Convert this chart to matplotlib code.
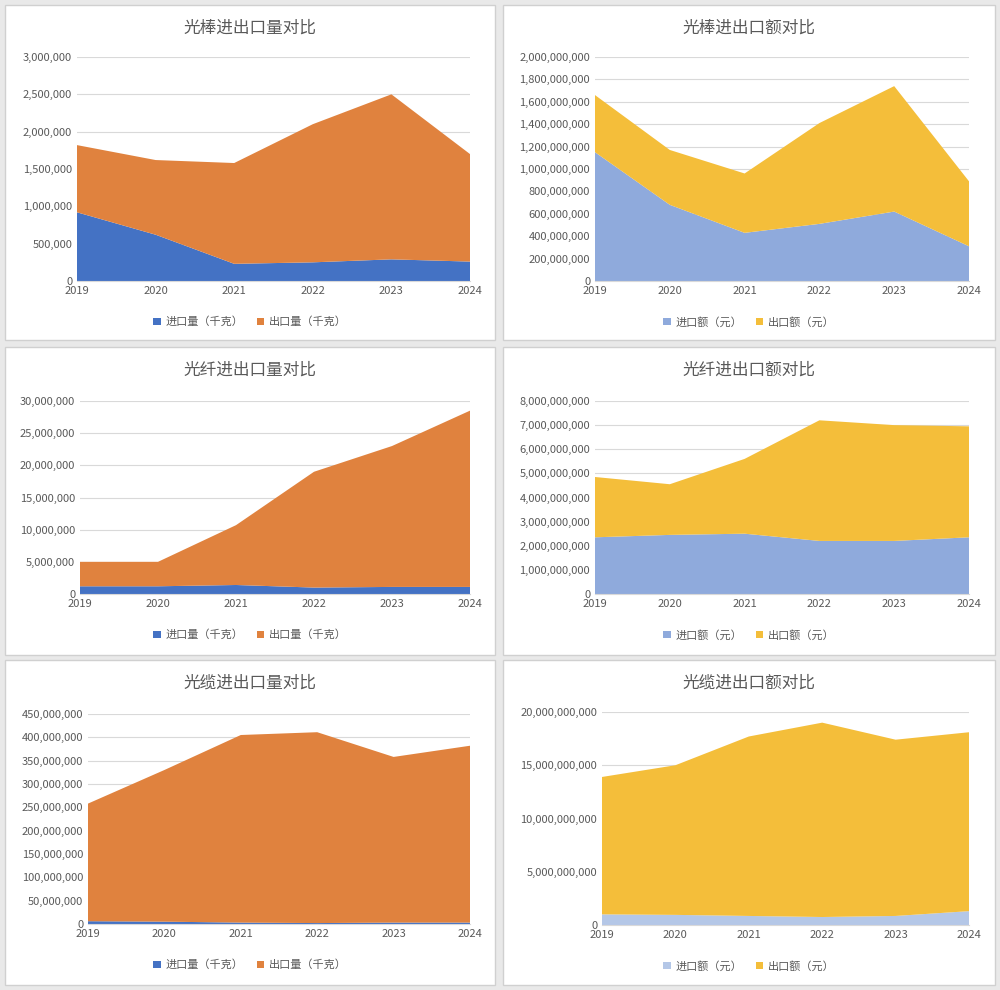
import matplotlib
matplotlib.use("Agg")
import matplotlib.pyplot as plt
from matplotlib.patches import Rectangle
from matplotlib.ticker import FuncFormatter

plt.rcParams["font.family"] = ["Noto Sans CJK SC", "DejaVu Sans"]

annees = ["2019", "2020", "2021", "2022", "2023", "2024"]

# 光棒
bangImportQte = [920e3, 620e3, 230e3, 250e3, 290e3, 260e3]
bangExportQte = [900e3, 1000e3, 1350e3, 1850e3, 2210e3, 1440e3]
bangImportVal = [1150e6, 680e6, 430e6, 510e6, 620e6, 310e6]
bangExportVal = [510e6, 490e6, 530e6, 900e6, 1120e6, 580e6]

# 光纤
xianImportQte = [1.2e6, 1.2e6, 1.4e6, 1.0e6, 1.1e6, 1.1e6]
xianExportQte = [3.8e6, 3.8e6, 9.3e6, 18.0e6, 21.9e6, 27.4e6]
xianImportVal = [2.35e9, 2.45e9, 2.5e9, 2.2e9, 2.2e9, 2.35e9]
xianExportVal = [2.5e9, 2.1e9, 3.1e9, 5.0e9, 4.8e9, 4.6e9]

# 光缆
lanImportQte = [6e6, 5e6, 3e6, 2e6, 3e6, 3e6]
lanExportQte = [252e6, 325e6, 402e6, 409e6, 355e6, 379e6]
lanImportVal = [1.0e9, 0.95e9, 0.85e9, 0.75e9, 0.85e9, 1.3e9]
lanExportVal = [12.9e9, 14.05e9, 16.85e9, 18.25e9, 16.55e9, 16.8e9]

W, H = 1000, 990
fig = plt.figure(figsize=(W / 100, H / 100), dpi=100)
fig.patch.set_facecolor("#e9e9e9")

gris = "#595959"


def panneau(x0, y0, x1, y1):
	fig.patches.append(Rectangle((x0 / W, 1 - y1 / H), (x1 - x0) / W, (y1 - y0) / H,
		transform=fig.transFigure, facecolor="white", edgecolor="#d0d0d0", lw=1, zorder=-5))


def graphique(panel, ax_box, titre, imp, exp, ymax, pas, couleurs, labels):
	panneau(*panel)
	x0, y0, x1, y1 = ax_box
	ax = fig.add_axes([x0 / W, 1 - y1 / H, (x1 - x0) / W, (y1 - y0) / H])
	ax.set_zorder(2)
	ax.patch.set_alpha(0)
	xs = range(len(annees))
	ax.stackplot(xs, imp, exp, colors=couleurs, labels=labels, zorder=2)
	ax.set_xlim(0, len(annees) - 1)
	ax.set_ylim(0, ymax)
	ax.set_yticks([pas * i for i in range(int(round(ymax / pas)) + 1)])
	ax.yaxis.set_major_formatter(FuncFormatter(lambda v, p: f"{int(round(v)):,}"))
	ax.set_xticks(list(xs))
	ax.set_xticklabels(annees)
	ax.grid(axis="y", color="#d9d9d9", lw=0.8, zorder=0)
	ax.set_axisbelow(True)
	for s in ["top", "right", "left"]:
		ax.spines[s].set_visible(False)
	ax.spines["bottom"].set_color("#d9d9d9")
	ax.tick_params(length=0, labelsize=8, colors=gris)
	cx = (panel[0] + panel[2]) / 2 / W
	fig.text(cx, 1 - (panel[1] + 23) / H, titre, ha="center", va="center", fontsize=12, color=gris)
	fig.legend(*ax.get_legend_handles_labels(), loc="center", bbox_to_anchor=(cx, 1 - (y1 + 41) / H),
		ncol=2, frameon=False, fontsize=8, labelcolor=gris, handlelength=0.7, handleheight=0.7,
		columnspacing=1.2, handletextpad=0.4)


cQte = ["#4472c4", "#e0823e"]
cVal = ["#8faadc", "#f4be3a"]
lQte = ["进口量（千克）", "出口量（千克）"]
lVal = ["进口额（元）", "出口额（元）"]

graphique((5, 5, 495, 340), (77, 57, 470, 281), "光棒进出口量对比", bangImportQte, bangExportQte, 3e6, 5e5, cQte, lQte)
graphique((503, 5, 995, 340), (595, 57, 969, 281), "光棒进出口额对比", bangImportVal, bangExportVal, 2e9, 2e8, cVal, lVal)
graphique((5, 347, 495, 655), (80, 401, 470, 594), "光纤进出口量对比", xianImportQte, xianExportQte, 30e6, 5e6, cQte, lQte)
graphique((503, 347, 995, 655), (595, 401, 969, 594), "光纤进出口额对比", xianImportVal, xianExportVal, 8e9, 1e9, cVal, lVal)
graphique((5, 660, 495, 985), (88, 714, 470, 924), "光缆进出口量对比", lanImportQte, lanExportQte, 450e6, 50e6, cQte, lQte)
graphique((503, 660, 995, 985), (602, 712, 969, 925), "光缆进出口额对比", lanImportVal, lanExportVal, 20e9, 5e9, ["#b4c7e7", "#f4be3a"], lVal)

fig.savefig("out.png", dpi=100, facecolor=fig.get_facecolor())
